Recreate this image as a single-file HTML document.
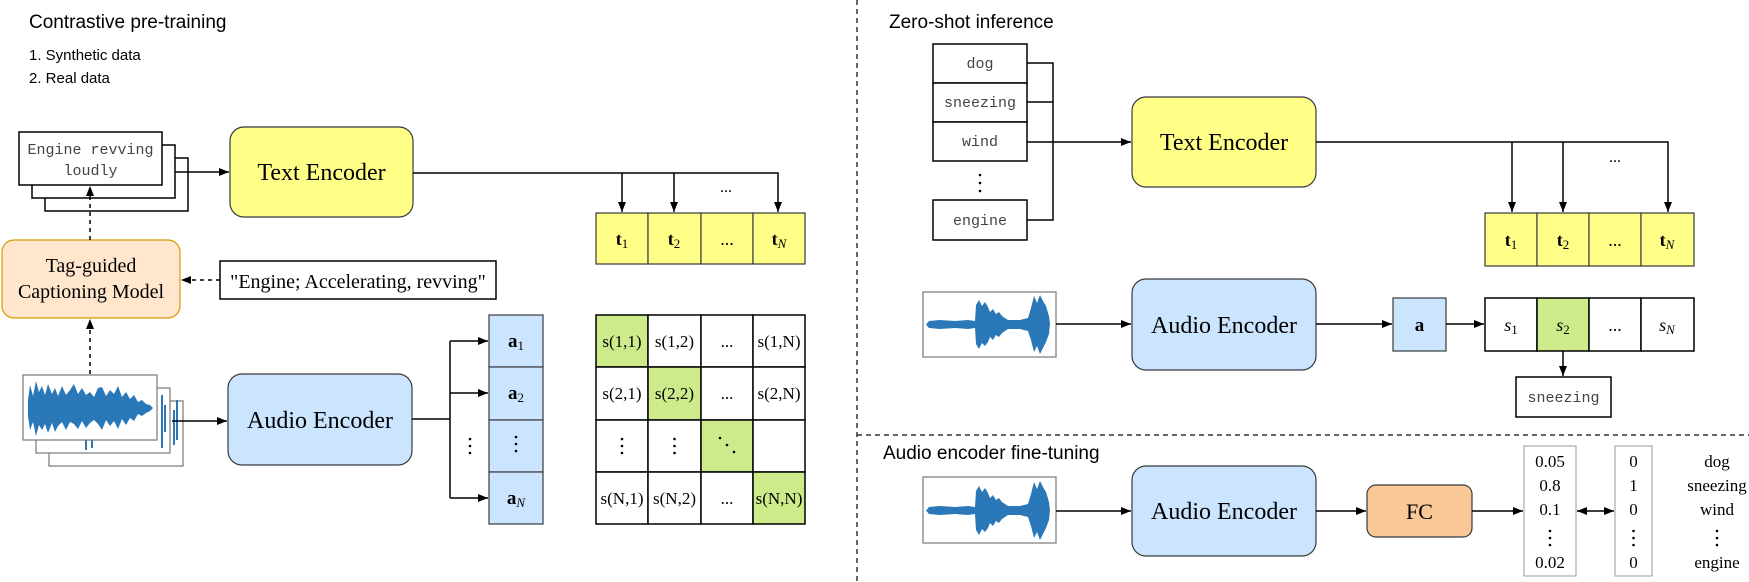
<!DOCTYPE html>
<html><head><meta charset="utf-8"><style>
html,body{margin:0;padding:0;background:#fff;}
svg{display:block;}
.sans{font-family:"Liberation Sans",Arial,sans-serif;fill:#000;}
.ser{font-family:"Liberation Serif","Times New Roman",serif;fill:#000;}
.mono{font-family:"Liberation Mono",monospace;fill:#444;}
</style></head><body>
<svg width="1749" height="582" viewBox="0 0 1749 582" xmlns="http://www.w3.org/2000/svg">
<defs>
<marker id="ar" viewBox="0 0 10 8" refX="10" refY="4" markerWidth="10" markerHeight="8" markerUnits="userSpaceOnUse" orient="auto"><path d="M0,0 L10,4 L0,8 Z" fill="#000"/></marker>
<marker id="as" viewBox="0 0 10 8" refX="0" refY="4" markerWidth="10" markerHeight="8" markerUnits="userSpaceOnUse" orient="auto"><path d="M10,0 L0,4 L10,8 Z" fill="#000"/></marker>
<g id="wr">
<polygon fill="#2a78b8" points="929,321 940,320 955,321 968,320 975,321 976,305 979,300 982,306 985,302 988,307 990,312 993,309 996,314 999,312 1002,316 1008,320 1020,320 1028,318 1031,308 1034,296 1037,303 1040,295 1043,301 1046,306 1049,316 1050,324 1049,334 1046,342 1043,348 1040,354 1037,346 1034,352 1031,340 1028,331 1020,329 1008,329 1002,333 999,337 996,335 993,340 990,337 988,342 985,346 982,343 979,349 976,344 975,328 968,329 955,328 940,329 929,328 926,324.5"/>
</g>
</defs>

<line x1="857" y1="0" x2="857" y2="582" stroke="#333" stroke-width="1.5" stroke-dasharray="5,4"/>
<line x1="857" y1="435" x2="1749" y2="435" stroke="#333" stroke-width="1.5" stroke-dasharray="5,4"/>

<text class="sans" x="29" y="28" font-size="19">Contrastive pre-training</text>
<text class="sans" x="29" y="60" font-size="15">1. Synthetic data</text>
<text class="sans" x="29" y="83" font-size="15">2. Real data</text>

<rect x="45" y="158" width="143" height="53" fill="#fff" stroke="#000" stroke-width="1.5"/>
<rect x="32" y="145" width="143" height="53" fill="#fff" stroke="#000" stroke-width="1.5"/>
<rect x="19" y="132" width="143" height="53" fill="#fff" stroke="#000" stroke-width="1.5"/>
<text class="mono" x="90.5" y="154" font-size="15" text-anchor="middle">Engine revving</text>
<text class="mono" x="90.5" y="175" font-size="15" text-anchor="middle">loudly</text>
<line x1="175" y1="172" x2="229" y2="172" stroke="#000" stroke-width="1.5" marker-end="url(#ar)"/>

<rect x="230" y="127" width="183" height="90" rx="14" fill="#ffff88" stroke="#36393d" stroke-width="1.2"/>
<text class="ser" x="321.5" y="180" font-size="24" text-anchor="middle">Text Encoder</text>

<polyline points="413,173 778,173 778,212" fill="none" stroke="#000" stroke-width="1.5" marker-end="url(#ar)"/>
<line x1="622" y1="173" x2="622" y2="212" stroke="#000" stroke-width="1.5" marker-end="url(#ar)"/>
<line x1="674" y1="173" x2="674" y2="212" stroke="#000" stroke-width="1.5" marker-end="url(#ar)"/>
<text class="ser" x="726" y="192" font-size="16" text-anchor="middle">...</text>

<g stroke="#36393d" stroke-width="1.2" fill="#ffff88">
<rect x="596" y="213" width="52" height="51"/><rect x="648" y="213" width="53" height="51"/><rect x="701" y="213" width="52" height="51"/><rect x="753" y="213" width="52" height="51"/>
</g>
<g class="ser" font-size="18" text-anchor="middle">
<text x="622" y="245"><tspan font-weight="bold">t</tspan><tspan font-size="13" dy="3">1</tspan></text>
<text x="674" y="245"><tspan font-weight="bold">t</tspan><tspan font-size="13" dy="3">2</tspan></text>
<text x="727" y="245">...</text>
<text x="779" y="245"><tspan font-weight="bold">t</tspan><tspan font-size="13" dy="3" font-style="italic">N</tspan></text>
</g>

<rect x="2" y="240" width="178" height="78" rx="12" fill="#ffe6cc" stroke="#d79b00" stroke-width="1.2"/>
<text class="ser" x="91" y="272" font-size="20" text-anchor="middle">Tag-guided</text>
<text class="ser" x="91" y="298" font-size="20" text-anchor="middle">Captioning Model</text>
<line x1="90" y1="240" x2="90" y2="186" stroke="#000" stroke-width="1.5" stroke-dasharray="4,4" marker-end="url(#ar)"/>
<line x1="90" y1="374" x2="90" y2="319" stroke="#000" stroke-width="1.5" stroke-dasharray="4,4" marker-end="url(#ar)"/>

<rect x="220" y="261" width="276" height="38" fill="#fff" stroke="#000" stroke-width="1.5"/>
<text class="ser" x="358" y="288" font-size="20" text-anchor="middle">"Engine; Accelerating, revving"</text>
<line x1="220" y1="280" x2="181" y2="280" stroke="#000" stroke-width="1.5" stroke-dasharray="4,4" marker-end="url(#ar)"/>

<rect x="49" y="401" width="134" height="65" fill="#fff" stroke="#777" stroke-width="1.2"/>
<rect x="36" y="388" width="134" height="65" fill="#fff" stroke="#777" stroke-width="1.2"/>
<g stroke="#2a78b8" stroke-width="2">
<line x1="174" y1="410" x2="174" y2="445"/><line x1="177" y1="400" x2="177" y2="440"/><line x1="162" y1="395" x2="162" y2="448"/><line x1="165" y1="405" x2="165" y2="432"/><line x1="86" y1="440" x2="86" y2="450"/><line x1="92" y1="440" x2="92" y2="448"/>
</g>
<rect x="23" y="375" width="134" height="65" fill="#fff" stroke="#777" stroke-width="1.2"/>
<polygon fill="#2a78b8" points="28,400 30,385 33,396 36,381 39,392 42,386 45,395 48,384 52,394 55,388 58,396 62,386 66,395 70,390 74,384 78,394 82,388 86,395 90,392 94,397 98,388 102,387 106,396 110,390 114,394 118,386 122,397 126,392 130,399 134,395 138,402 142,400 146,404 150,405 153,408 150,411 146,413 142,416 138,414 134,421 130,418 126,425 122,419 118,429 114,421 110,426 106,420 102,430 98,424 94,420 90,423 86,428 82,421 78,429 74,424 70,422 66,430 62,422 58,426 55,432 52,423 48,433 45,424 42,430 39,425 36,436 33,422 30,430 28,416"/>
<line x1="172" y1="421" x2="227" y2="421" stroke="#000" stroke-width="1.5" marker-end="url(#ar)"/>

<rect x="228" y="374" width="184" height="91" rx="14" fill="#cce5ff" stroke="#36393d" stroke-width="1.2"/>
<text class="ser" x="320" y="428" font-size="24" text-anchor="middle">Audio Encoder</text>
<polyline points="412,419 450,419" fill="none" stroke="#000" stroke-width="1.5"/>
<line x1="450" y1="341" x2="450" y2="498" stroke="#000" stroke-width="1.5"/>
<line x1="450" y1="341" x2="488" y2="341" stroke="#000" stroke-width="1.5" marker-end="url(#ar)"/>
<line x1="450" y1="393" x2="488" y2="393" stroke="#000" stroke-width="1.5" marker-end="url(#ar)"/>
<line x1="450" y1="498" x2="488" y2="498" stroke="#000" stroke-width="1.5" marker-end="url(#ar)"/>

<g stroke="#36393d" stroke-width="1.2" fill="#cce5ff">
<rect x="489" y="315" width="54" height="52"/><rect x="489" y="367" width="54" height="53"/><rect x="489" y="420" width="54" height="52"/><rect x="489" y="472" width="54" height="52"/>
</g>
<g fill="#000"><circle cx="470" cy="439" r="1.3"/><circle cx="470" cy="446" r="1.3"/><circle cx="470" cy="453" r="1.3"/>
<circle cx="516" cy="437" r="1.3"/><circle cx="516" cy="444" r="1.3"/><circle cx="516" cy="451" r="1.3"/></g>
<g class="ser" font-size="19" text-anchor="middle">
<text x="516" y="347"><tspan font-weight="bold">a</tspan><tspan font-size="13" dy="3">1</tspan></text>
<text x="516" y="399"><tspan font-weight="bold">a</tspan><tspan font-size="13" dy="3">2</tspan></text>
<text x="516" y="504"><tspan font-weight="bold">a</tspan><tspan font-size="13" dy="3" font-style="italic">N</tspan></text>
</g>

<g stroke="#000" stroke-width="1.5">
<rect x="596" y="315" width="52" height="52" fill="#cdeb8b"/><rect x="648" y="315" width="53" height="52" fill="#fff"/><rect x="701" y="315" width="52" height="52" fill="#fff"/><rect x="753" y="315" width="52" height="52" fill="#fff"/>
<rect x="596" y="367" width="52" height="53" fill="#fff"/><rect x="648" y="367" width="53" height="53" fill="#cdeb8b"/><rect x="701" y="367" width="52" height="53" fill="#fff"/><rect x="753" y="367" width="52" height="53" fill="#fff"/>
<rect x="596" y="420" width="52" height="52" fill="#fff"/><rect x="648" y="420" width="53" height="52" fill="#fff"/><rect x="701" y="420" width="52" height="52" fill="#cdeb8b"/><rect x="753" y="420" width="52" height="52" fill="#fff"/>
<rect x="596" y="472" width="52" height="52" fill="#fff"/><rect x="648" y="472" width="53" height="52" fill="#fff"/><rect x="701" y="472" width="52" height="52" fill="#fff"/><rect x="753" y="472" width="52" height="52" fill="#cdeb8b"/>
</g>
<g class="ser" font-size="17" text-anchor="middle">
<text x="622" y="347">s(1,1)</text><text x="674.5" y="347">s(1,2)</text><text x="727" y="347">...</text><text x="779" y="347">s(1,N)</text>
<text x="622" y="399">s(2,1)</text><text x="674.5" y="399">s(2,2)</text><text x="727" y="399">...</text><text x="779" y="399">s(2,N)</text>
<text x="622" y="504">s(N,1)</text><text x="674.5" y="504">s(N,2)</text><text x="727" y="504">...</text><text x="779" y="504">s(N,N)</text>
</g>
<g fill="#000"><circle cx="622" cy="439" r="1.3"/><circle cx="622" cy="446" r="1.3"/><circle cx="622" cy="453" r="1.3"/>
<circle cx="674.5" cy="439" r="1.3"/><circle cx="674.5" cy="446" r="1.3"/><circle cx="674.5" cy="453" r="1.3"/>
<circle cx="720" cy="438" r="1.3"/><circle cx="727" cy="445" r="1.3"/><circle cx="734" cy="452" r="1.3"/></g>

<text class="sans" x="889" y="28" font-size="19">Zero-shot inference</text>
<g stroke="#000" stroke-width="1.5" fill="#fff">
<rect x="933" y="44" width="94" height="39"/><rect x="933" y="83" width="94" height="39"/><rect x="933" y="122" width="94" height="39"/><rect x="933" y="200" width="94" height="40"/>
</g>
<g class="mono" font-size="15" text-anchor="middle">
<text x="980" y="68">dog</text><text x="980" y="107">sneezing</text><text x="980" y="146">wind</text><text x="980" y="225">engine</text>
</g>
<g fill="#000"><circle cx="980" cy="175" r="1.3"/><circle cx="980" cy="183" r="1.3"/><circle cx="980" cy="191" r="1.3"/></g>
<polyline points="1027,63 1053,63 1053,220 1027,220" fill="none" stroke="#000" stroke-width="1.5"/>
<line x1="1027" y1="102" x2="1053" y2="102" stroke="#000" stroke-width="1.5"/>
<line x1="1027" y1="142" x2="1131" y2="142" stroke="#000" stroke-width="1.5" marker-end="url(#ar)"/>

<rect x="1132" y="97" width="184" height="90" rx="14" fill="#ffff88" stroke="#36393d" stroke-width="1.2"/>
<text class="ser" x="1224" y="150" font-size="24" text-anchor="middle">Text Encoder</text>
<polyline points="1316,142 1668,142 1668,212" fill="none" stroke="#000" stroke-width="1.5" marker-end="url(#ar)"/>
<line x1="1512" y1="142" x2="1512" y2="212" stroke="#000" stroke-width="1.5" marker-end="url(#ar)"/>
<line x1="1563" y1="142" x2="1563" y2="212" stroke="#000" stroke-width="1.5" marker-end="url(#ar)"/>
<text class="ser" x="1615" y="162" font-size="16" text-anchor="middle">...</text>

<g stroke="#36393d" stroke-width="1.2" fill="#ffff88">
<rect x="1485" y="213" width="52" height="53"/><rect x="1537" y="213" width="52" height="53"/><rect x="1589" y="213" width="52" height="53"/><rect x="1641" y="213" width="53" height="53"/>
</g>
<g class="ser" font-size="18" text-anchor="middle">
<text x="1511" y="246"><tspan font-weight="bold">t</tspan><tspan font-size="13" dy="3">1</tspan></text>
<text x="1563" y="246"><tspan font-weight="bold">t</tspan><tspan font-size="13" dy="3">2</tspan></text>
<text x="1615" y="246">...</text>
<text x="1667" y="246"><tspan font-weight="bold">t</tspan><tspan font-size="13" dy="3" font-style="italic">N</tspan></text>
</g>

<rect x="923" y="292" width="133" height="65" fill="#fff" stroke="#777" stroke-width="1.2"/>
<use href="#wr"/>
<line x1="1056" y1="324" x2="1131" y2="324" stroke="#000" stroke-width="1.5" marker-end="url(#ar)"/>
<rect x="1132" y="279" width="184" height="91" rx="14" fill="#cce5ff" stroke="#36393d" stroke-width="1.2"/>
<text class="ser" x="1224" y="333" font-size="24" text-anchor="middle">Audio Encoder</text>
<line x1="1316" y1="324" x2="1392" y2="324" stroke="#000" stroke-width="1.5" marker-end="url(#ar)"/>
<rect x="1393" y="298" width="53" height="53" fill="#cce5ff" stroke="#36393d" stroke-width="1.2"/>
<text class="ser" x="1419.5" y="331" font-size="19" font-weight="bold" text-anchor="middle">a</text>
<line x1="1446" y1="324" x2="1484" y2="324" stroke="#000" stroke-width="1.5" marker-end="url(#ar)"/>
<g stroke="#000" stroke-width="1.5">
<rect x="1485" y="298" width="52" height="53" fill="#fff"/><rect x="1537" y="298" width="52" height="53" fill="#cdeb8b"/><rect x="1589" y="298" width="52" height="53" fill="#fff"/><rect x="1641" y="298" width="53" height="53" fill="#fff"/>
</g>
<g class="ser" font-size="18" text-anchor="middle">
<text x="1511" y="331"><tspan font-style="italic">s</tspan><tspan font-size="13" dy="3">1</tspan></text>
<text x="1563" y="331"><tspan font-style="italic">s</tspan><tspan font-size="13" dy="3">2</tspan></text>
<text x="1615" y="331">...</text>
<text x="1667" y="331"><tspan font-style="italic">s</tspan><tspan font-size="13" dy="3" font-style="italic">N</tspan></text>
</g>
<line x1="1563" y1="351" x2="1563" y2="376" stroke="#000" stroke-width="1.5" marker-end="url(#ar)"/>
<rect x="1516" y="377" width="95" height="40" fill="#fff" stroke="#000" stroke-width="1.5"/>
<text class="mono" x="1563.5" y="402" font-size="15" text-anchor="middle">sneezing</text>

<text class="sans" x="883" y="459" font-size="19">Audio encoder fine-tuning</text>
<rect x="923" y="477" width="133" height="66" fill="#fff" stroke="#777" stroke-width="1.2"/>
<use href="#wr" transform="translate(0,186)"/>
<line x1="1056" y1="511" x2="1131" y2="511" stroke="#000" stroke-width="1.5" marker-end="url(#ar)"/>
<rect x="1132" y="466" width="184" height="90" rx="14" fill="#cce5ff" stroke="#36393d" stroke-width="1.2"/>
<text class="ser" x="1224" y="519" font-size="24" text-anchor="middle">Audio Encoder</text>
<line x1="1316" y1="511" x2="1366" y2="511" stroke="#000" stroke-width="1.5" marker-end="url(#ar)"/>
<rect x="1367" y="485" width="105" height="52" rx="9" fill="#fac796" stroke="#36393d" stroke-width="1.2"/>
<text class="ser" x="1419.5" y="519" font-size="22" text-anchor="middle">FC</text>
<line x1="1472" y1="511" x2="1523" y2="511" stroke="#000" stroke-width="1.5" marker-end="url(#ar)"/>
<rect x="1524" y="446" width="52" height="130" fill="#fff" stroke="#aaa" stroke-width="1.2"/>
<rect x="1615" y="446" width="37" height="130" fill="#fff" stroke="#aaa" stroke-width="1.2"/>
<line x1="1577" y1="511" x2="1614" y2="511" stroke="#000" stroke-width="1.5" marker-start="url(#as)" marker-end="url(#ar)"/>
<g class="ser" font-size="17" text-anchor="middle">
<text x="1550" y="467">0.05</text><text x="1550" y="491">0.8</text><text x="1550" y="515">0.1</text><text x="1550" y="568">0.02</text>
<text x="1633.5" y="467">0</text><text x="1633.5" y="491">1</text><text x="1633.5" y="515">0</text><text x="1633.5" y="568">0</text>
<text x="1717" y="467">dog</text><text x="1717" y="491">sneezing</text><text x="1717" y="515">wind</text><text x="1717" y="568">engine</text>
</g>
<g fill="#000"><circle cx="1550" cy="531" r="1.3"/><circle cx="1550" cy="538" r="1.3"/><circle cx="1550" cy="545" r="1.3"/>
<circle cx="1633.5" cy="531" r="1.3"/><circle cx="1633.5" cy="538" r="1.3"/><circle cx="1633.5" cy="545" r="1.3"/>
<circle cx="1717" cy="531" r="1.3"/><circle cx="1717" cy="538" r="1.3"/><circle cx="1717" cy="545" r="1.3"/></g>
</svg>
</body></html>
